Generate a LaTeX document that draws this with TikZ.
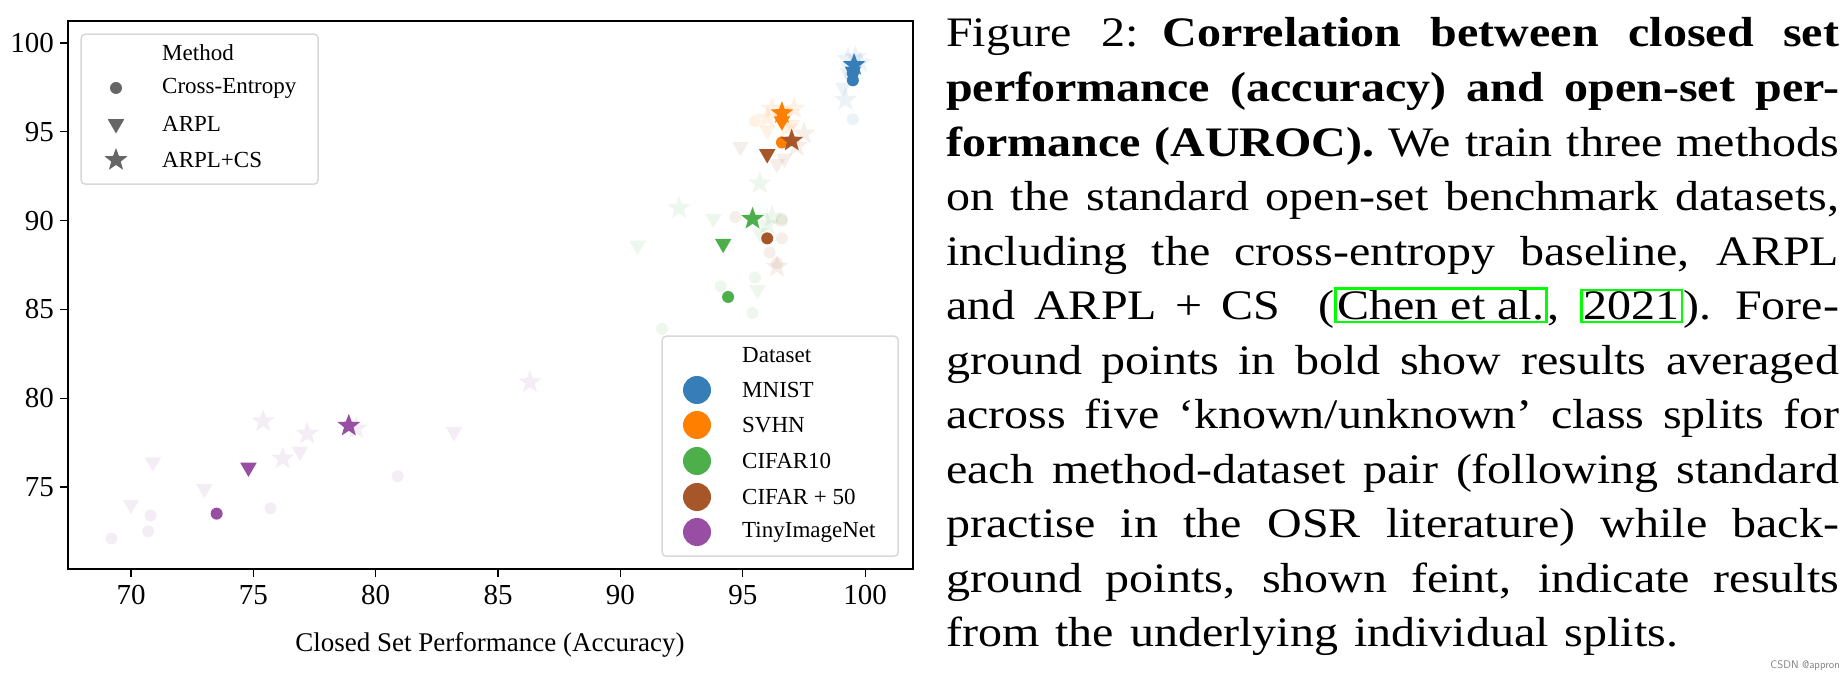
\documentclass[tikz,border=0pt]{standalone}
\usepackage{fontspec}
\setmainfont{Liberation Serif}
\usetikzlibrary{shapes.geometric}
\definecolor{cM}{HTML}{377EB8}
\definecolor{cS}{HTML}{FF7F00}
\definecolor{cC}{HTML}{4DAF4A}
\definecolor{cF}{HTML}{A65628}
\definecolor{cT}{HTML}{984EA3}
\definecolor{lgray}{HTML}{D9D9D9}
\definecolor{mgray}{HTML}{666666}
\definecolor{linkgreen}{RGB}{0,255,0}
\tikzset{
 mk/.style={draw=none,inner sep=0pt,outer sep=0pt},
 ce/.style={mk,circle,minimum size=12pt},
 ar/.style={mk,regular polygon,regular polygon sides=3,shape border rotate=180,minimum size=19pt},
 cs/.style={mk,star,star points=5,star point ratio=2.4,minimum size=24pt},
 bg/.style={fill opacity=0.1},
 legbox/.style={draw=lgray,line width=0.38pt,rounded corners=1pt,fill=white},
 tick/.style={line width=0.3pt},
 ticklab/.style={font=\fontsize{29}{34}\selectfont,inner sep=0pt},
 legtxt/.style={font=\fontsize{23}{27}\selectfont,inner sep=0pt,anchor=west},
}
\newcommand{\lnk}[1]{{\setlength{\fboxsep}{1pt}\setlength{\fboxrule}{2.5pt}\color{linkgreen}\fbox{\color{black}#1}}}
\newcommand{\jl}[1]{\hbox to \linewidth{\spaceskip=0.25em plus 2em minus 0.14em\relax #1}}
\begin{document}
\begin{tikzpicture}[x=1pt,y=-1pt,scale=0.25,transform shape]
\useasboundingbox (0,0) rectangle (1843,673);
% background points
\foreach \c/\s/\px/\py in {
 cT/cs/75.4/78.7, cT/cs/77.2/78.0, cT/cs/76.2/76.6, cT/cs/79.2/78.3, cT/cs/86.3/80.9,
 cT/ar/70.9/76.4, cT/ar/70.0/74.0, cT/ar/73.0/74.9, cT/ar/76.9/77.0, cT/ar/83.2/78.1,
 cT/ce/69.2/72.1, cT/ce/70.8/73.4, cT/ce/70.7/72.5, cT/ce/75.7/73.8, cT/ce/80.9/75.6,
 cC/cs/95.7/92.1, cC/cs/92.4/90.7, cC/ar/93.8/90.1, cC/ar/90.7/88.6, cC/cs/96.2/90.2, cC/cs/96.0/89.8,
 cC/ar/95.6/86.1, cC/ar/95.7/89.3, cC/ce/94.1/86.3, cC/ce/95.4/84.8, cC/ce/95.5/86.8, cC/ce/91.7/83.9, cC/ce/96.6/90.1,
 cF/ar/94.9/94.15, cF/ar/96.4/93.2, cF/ar/96.7/93.5, cF/cs/97.5/94.9, cF/cs/97.2/94.2, cF/ce/94.7/90.2, cF/ce/96.6/90.0,
 cF/ce/96.6/89.0, cF/ce/96.1/88.2, cF/cs/96.4/87.4, cF/ce/96.4/87.6,
 cS/cs/96.0/95.8, cS/cs/97.1/96.3, cS/cs/96.2/96.3, cS/cs/96.8/95.2, cS/ce/95.5/95.6, cS/ce/96.8/96.1, cS/ar/96.0/95.1, cS/ar/97.0/95.4,
 cM/cs/99.3/99.1, cM/cs/99.8/98.9, cM/cs/99.2/96.8, cM/cs/99.6/99.2, cM/ce/99.5/95.7, cM/ar/99.1/97.5, cM/ar/99.3/98.3, cM/ce/99.4/98.2}
 {\pgfmathsetmacro{\X}{131+(\px-70)*24.47}\pgfmathsetmacro{\Y}{43+(100-\py)*17.76}
  \node[\s,bg,fill=\c] at (\X,\Y) {};}
% foreground points
\foreach \c/\s/\px/\py in {
 cT/ce/73.5/73.5, cT/ar/74.8/76.1, cT/cs/78.9/78.45,
 cC/ce/94.4/85.7, cC/ar/94.2/88.7, cC/cs/95.4/90.1,
 cF/ce/96.0/89.0, cF/ar/96.0/93.75,
 cS/ce/96.6/94.4, cS/ar/96.6/95.6, cS/cs/96.6/96.05,
 cF/cs/97.0/94.5,
 cM/ar/99.5/98.4, cM/ce/99.5/97.9, cM/ce/99.5/98.3, cM/cs/99.55/98.76}
 {\pgfmathsetmacro{\X}{131+(\px-70)*24.47}\pgfmathsetmacro{\Y}{43+(100-\py)*17.76}
  \node[\s,fill=\c] at (\X,\Y) {};}
% axes frame
\draw[line width=0.33pt] (68,21) rectangle (913,569);
% x ticks
\foreach \v in {70,75,80,85,90,95,100}{
 \pgfmathsetmacro{\X}{131+(\v-70)*24.47}
 \draw[tick] (\X,569) -- (\X,577);
 \node[ticklab,anchor=north] at (\X,585) {\v};
}
% y ticks
\foreach \v in {75,80,85,90,95,100}{
 \pgfmathsetmacro{\Y}{43+(100-\v)*17.76}
 \draw[tick] (68,\Y) -- (60,\Y);
 \node[ticklab,anchor=east] at (54,\Y) {\v};
}
\node[font=\fontsize{27}{32}\selectfont,inner sep=0pt] (xlab) at (490,645) {Closed Set Performance (Accuracy)};
% legend: method
\node[legbox,minimum width=237pt,minimum height=150pt,anchor=north west] (leg1) at (81,34) {};
\node[legtxt] (m0) at (162,53) {Method};
\node[ce,fill=mgray] (m1) at (116,88) {}; \node[legtxt] (t1) at (162,88) {Cross-Entropy};
\node[ar,fill=mgray] (m2) at (116,124) {}; \node[legtxt] (t2) at (162,124) {ARPL};
\node[cs,fill=mgray] (m3) at (116,160) {}; \node[legtxt] (t3) at (162,160) {ARPL+CS};
% legend: dataset
\node[legbox,minimum width=236pt,minimum height=220pt,anchor=north west] (leg2) at (662,336) {};
\node[legtxt] (d0) at (742,355) {Dataset};
\foreach \cc/\tt/\yy [count=\i] in {cM/MNIST/390, cS/SVHN/425, cC/CIFAR10/461, cF/CIFAR + 50/497, cT/TinyImageNet/532}{
 \node[mk,circle,minimum size=28pt,fill=\cc] (dm\i) at (697,\yy) {};
 \node[legtxt] (dt\i) at (742,\yy) {\tt};
}
% caption
\node[anchor=base west,inner sep=0pt,yscale=0.875,text width=893pt,font=\fontsize{48}{62.3}\selectfont] (cap) at (946,47) {%
\jl{Figure 2: \textbf{Correlation between closed set}}
\jl{\textbf{performance (accuracy) and open-set per-}}
\jl{\textbf{formance (AUROC).} We train three methods}
\jl{on the standard open-set benchmark datasets,}
\jl{including the cross-entropy baseline, ARPL}
\jl{and ARPL + CS\ \ (\lnk{Chen et al.}, \lnk{2021}). Fore-}
\jl{ground points in bold show results averaged}
\jl{across five ‘known/unknown’ class splits for}
\jl{each method-dataset pair (following standard}
\jl{practise in the OSR literature) while back-}
\jl{ground points, shown feint, indicate results}
\hbox{from the underlying individual splits.}};
\node[anchor=south east,inner sep=1pt,text=gray,font=\fontsize{11}{12}\sffamily] (wm) at (1841,672) {CSDN @appron};
\end{tikzpicture}
\end{document}
